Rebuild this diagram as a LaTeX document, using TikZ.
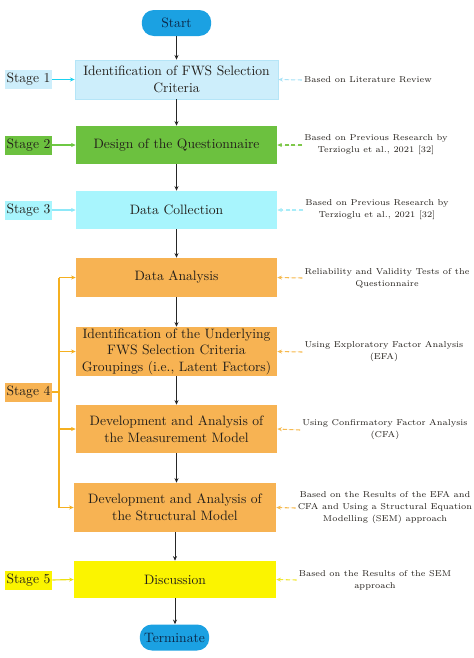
\documentclass[tikz,border=0pt]{standalone}
\usetikzlibrary{arrows.meta,positioning}
\definecolor{startblue}{HTML}{1BA1E2}
\definecolor{navy}{HTML}{0B2545}
\definecolor{lblue}{HTML}{CDEEFB}
\definecolor{lblueb}{HTML}{B5E5F7}
\definecolor{sgreen}{HTML}{6CC13F}
\definecolor{scyan}{HTML}{A8F5FD}
\definecolor{sorange}{HTML}{F7B353}
\definecolor{syellow}{HTML}{FBF400}
\definecolor{txt}{HTML}{231F1A}
\definecolor{arrowcyan}{HTML}{1CD2F0}
\definecolor{arrowgreen}{HTML}{6EC844}
\definecolor{arrowlcyan}{HTML}{8EE8F8}
\definecolor{arroworange}{HTML}{F5B020}
\definecolor{arrowyellow}{HTML}{EEE010}
\definecolor{dashblue}{HTML}{A8E2F6}
\definecolor{dashgreen}{HTML}{7EC84A}
\definecolor{dashcyan}{HTML}{A8ECF8}
\definecolor{dashorange}{HTML}{F6BA50}
\definecolor{dashyellow}{HTML}{F0E630}
\tikzset{
  mainbox/.style={draw=none,rectangle,align=center,text=txt,inner sep=0pt,
    font=\fontsize{10.2}{12.4}\selectfont},
  term/.style={rectangle,rounded corners=9pt,fill=startblue,text=navy,inner sep=0pt,
    minimum width=52pt,minimum height=19.5pt,font=\fontsize{10.2}{12.4}\selectfont},
  stagebox/.style={rectangle,inner sep=0pt,minimum width=35.25pt,minimum height=14.25pt,
    text=txt,font=\fontsize{10.2}{12.4}\selectfont},
  note/.style={align=center,text=txt,inner sep=1.5pt,font=\fontsize{6.4}{9}\selectfont},
  flow/.style={draw=black!85,line width=0.65pt,-{Stealth[length=3.5pt,width=3pt]}},
  stagearrow/.style={line width=0.85pt,-{Stealth[length=3.5pt,width=3pt]}},
  bracketline/.style={draw=arroworange,line width=0.85pt},
  notearrow/.style={line width=0.8pt,dashed,dash pattern=on 3pt off 2pt,-{Stealth[length=3.5pt,width=3pt]}},
}
\begin{document}
\begin{tikzpicture}[x=0.75pt,y=-0.75pt]
\useasboundingbox (0,0) rectangle (474,658);
% main flow
\node[term] (start) at (176.5,23) {Start};
\node[mainbox,fill=lblue,draw=lblueb,line width=0.5pt,minimum width=152.25pt,minimum height=29.25pt] (b1) at (176.5,79.5) {Identification of FWS Selection\\Criteria};
\node[mainbox,fill=sgreen,minimum width=150.75pt,minimum height=28.5pt] (b2) at (176.5,145) {Design of the Questionnaire};
\node[mainbox,fill=scyan,minimum width=150.75pt,minimum height=28.5pt] (b3) at (176.5,210) {Data Collection};
\node[mainbox,fill=sorange,minimum width=150.75pt,minimum height=29.25pt] (b4) at (176.5,277.5) {Data Analysis};
\node[mainbox,fill=sorange,minimum width=150.75pt,minimum height=36.75pt] (b5) at (176.5,351.5) {Identification of the Underlying\\FWS Selection Criteria\\Groupings (i.e., Latent Factors)};
\node[mainbox,fill=sorange,minimum width=150.75pt,minimum height=36pt] (b6) at (176.5,429) {Development and Analysis of\\the Measurement Model};
\node[mainbox,fill=sorange,minimum width=151.5pt,minimum height=36.75pt] (b7) at (175,507.5) {Development and Analysis of\\the Structural Model};
\node[mainbox,fill=syellow,minimum width=151.5pt,minimum height=27.75pt] (b8) at (175,579.5) {Discussion};
\node[term] (end) at (174.5,637.5) {Terminate};

\draw[flow] (start.south) -- (b1.north);
\draw[flow] (b1.south) -- (b2.north);
\draw[flow] (b2.south) -- (b3.north);
\draw[flow] (b3.south) -- (b4.north);
\draw[flow] (b4.south) -- (b5.north);
\draw[flow] (b5.south) -- (b6.north);
\draw[flow] (b6.south) -- (b6.south |- b7.north);
\draw[flow] (b7.south) -- (b8.north);
\draw[flow] (b8.south) -- (b8.south |- end.north);

% stage labels
\node[stagebox,fill=lblue] (s1) at (28.5,79.5) {Stage 1};
\node[stagebox,fill=sgreen] (s2) at (28.5,145) {Stage 2};
\node[stagebox,fill=scyan] (s3) at (28.5,210) {Stage 3};
\node[stagebox,fill=sorange] (s4) at (28.5,392) {Stage 4};
\node[stagebox,fill=syellow] (s5) at (28.5,580) {Stage 5};

\draw[stagearrow,draw=arrowcyan,fill=arrowcyan] (s1.east) -- (b1.west);
\draw[stagearrow,draw=arrowgreen,fill=arrowgreen] (s2.east) -- (b2.west);
\draw[stagearrow,draw=arrowlcyan,fill=arrowlcyan] (s3.east) -- (b3.west);
\draw[stagearrow,draw=arrowyellow,fill=arrowyellow] (s5.east) -- (b8.west);

\coordinate (br) at (59,392);
\draw[bracketline] (s4.east) -- (br);
\draw[bracketline] (br |- b4.west) -- (br |- b7.west);
\draw[stagearrow,draw=arroworange,fill=arroworange] (br |- b4.west) -- (b4.west);
\draw[stagearrow,draw=arroworange,fill=arroworange] (br |- b5.west) -- (b5.west);
\draw[stagearrow,draw=arroworange,fill=arroworange] (br |- b6.west) -- (b6.west);
\draw[stagearrow,draw=arroworange,fill=arroworange] (br |- b7.west) -- (b7.west);

% notes
\node[note] (n1) at (368,80) {Based on Literature Review};
\node[note] (n2) at (376,145) {Based on Previous Research by\\Terzioglu et al., 2021 [32]};
\node[note] (n3) at (377,210) {Based on Previous Research by\\Terzioglu et al., 2021 [32]};
\node[note] (n4) at (387,278) {Reliability and Validity Tests of the\\Questionnaire};
\node[note] (n5) at (384,352) {Using Exploratory Factor Analysis\\(EFA)};
\node[note] (n6) at (385,430) {Using Confirmatory Factor Analysis\\(CFA)};
\node[note] (n7) at (385,508) {Based on the Results of the EFA and\\CFA and Using a Structural Equation\\Modelling (SEM) approach};
\node[note] (n8) at (375,580) {Based on the Results of the SEM\\approach};

\draw[notearrow,draw=dashblue,fill=dashblue] (n1.west) -- (b1.east);
\draw[notearrow,draw=dashgreen,fill=dashgreen] (n2.west) -- (b2.east);
\draw[notearrow,draw=dashcyan,fill=dashcyan] (n3.west) -- (b3.east);
\draw[notearrow,draw=dashorange,fill=dashorange] (n4.west) -- (b4.east);
\draw[notearrow,draw=dashorange,fill=dashorange] (n5.west) -- (b5.east);
\draw[notearrow,draw=dashorange,fill=dashorange] (n6.west) -- (b6.east);
\draw[notearrow,draw=dashorange,fill=dashorange] (n7.west) -- (b7.east);
\draw[notearrow,draw=dashyellow,fill=dashyellow] (n8.west) -- (b8.east);
\end{tikzpicture}
\end{document}
